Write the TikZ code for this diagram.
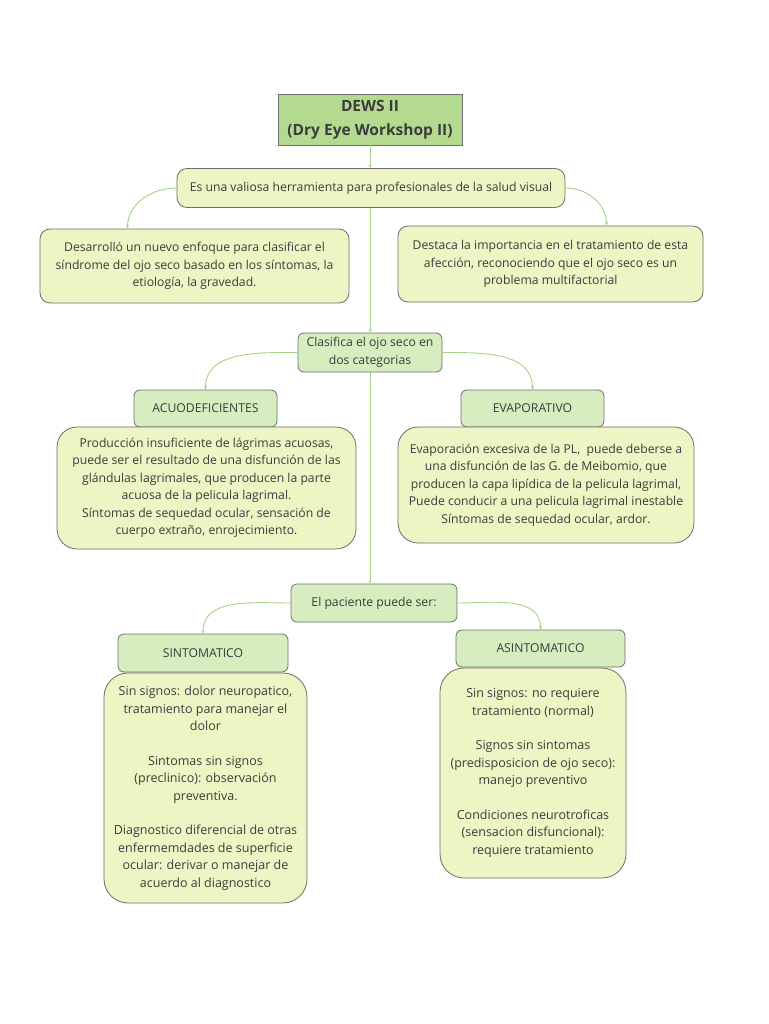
\documentclass[tikz,border=0pt]{standalone}
\usepackage{fontspec}
\setmainfont{Open Sans}
\usetikzlibrary{arrows.meta}
\definecolor{txt}{HTML}{3C3C3C}
\definecolor{bord}{HTML}{6E6E6E}
\definecolor{titlefill}{HTML}{B3DA8F}
\definecolor{catfill}{HTML}{D6EDBF}
\definecolor{boxfill}{HTML}{EEF4C3}
\definecolor{link}{HTML}{A5D488}
\tikzset{
  base/.style={draw=bord, line width=0.8pt, text=txt, align=center, inner sep=2pt,
    font=\fontsize{12.2}{17.5}\selectfont},
  titlebox/.style={base, fill=titlefill, rounded corners=0pt, font=\bfseries\fontsize{15.5}{24}\selectfont},
  catbox/.style={base, fill=catfill, rounded corners=6pt},
  infobox/.style={base, fill=boxfill, rounded corners=10pt},
  bigbox/.style={base, fill=boxfill, rounded corners=24pt},
  lowbox/.style={bigbox, font=\fontsize{12.5}{17.5}\selectfont},
  conn/.style={draw=link, line width=0.9pt, -{Stealth[length=3.5pt,width=3pt]}},
  plainconn/.style={draw=link, line width=0.9pt}
}
\begin{document}
\begin{tikzpicture}[x=1pt,y=-1pt]
\useasboundingbox[fill=white] (0,0) rectangle (768,1024);
\node[titlebox, minimum width=184pt, minimum height=51pt] (title) at (370,119.5) {DEWS II\\(Dry Eye Workshop II)};
\node[infobox, minimum width=388pt, minimum height=39pt] (es) at (371,188) {Es una valiosa herramienta para profesionales de la salud visual};
\node[infobox, minimum width=309pt, minimum height=74pt] (desa) at (194.5,266) {Desarrolló un nuevo enfoque para clasificar el\\síndrome del ojo seco basado en los síntomas, la\\etiología, la gravedad.};
\node[infobox, minimum width=305pt, minimum height=76pt] (dest) at (550.5,264) {Destaca la importancia en el tratamiento de esta\\afección, reconociendo que el ojo seco es un\\problema multifactorial};
\node[catbox, minimum width=144pt, minimum height=39pt] (clas) at (370,352.5) {Clasifica el ojo seco en\\dos categorias};
\node[catbox, minimum width=143pt, minimum height=37pt] (acuo) at (205.5,408.5) {ACUODEFICIENTES};
\node[catbox, minimum width=143pt, minimum height=37pt] (evap) at (532.5,408.5) {EVAPORATIVO};
\node[bigbox, rounded corners=20pt, minimum width=299pt, minimum height=122pt] (acuot) at (206.5,488) {Producción insuficiente de lágrimas acuosas,\\puede ser el resultado de una disfunción de las\\glándulas lagrimales, que producen la parte\\acuosa de la pelicula lagrimal.\\Síntomas de sequedad ocular, sensación de\\cuerpo extraño, enrojecimiento.};
\node[bigbox, rounded corners=20pt, minimum width=296pt, minimum height=116pt] (evapt) at (546,485) {Evaporación excesiva de la PL,\ \ puede deberse a\\una disfunción de las G. de Meibomio, que\\producen la capa lipídica de la pelicula lagrimal,\\Puede conducir a una pelicula lagrimal inestable\\Síntomas de sequedad ocular, ardor.};
\node[catbox, minimum width=166pt, minimum height=38pt] (pac) at (374,603) {El paciente puede ser:};
\node[catbox, minimum width=170pt, minimum height=38pt] (sint) at (203,653) {SINTOMATICO};
\node[catbox, minimum width=169pt, minimum height=37pt] (asint) at (540.5,648.5) {ASINTOMATICO};
\node[lowbox, minimum width=203pt, minimum height=230pt] (sintt) at (205.5,788) {Sin signos: dolor neuropatico,\\tratamiento para manejar el\\dolor\\[17pt]Sintomas sin signos\\(preclinico): observación\\preventiva.\\[17pt]Diagnostico diferencial de otras\\enfermemdades de superficie\\ocular: derivar o manejar de\\acuerdo al diagnostico};
\node[lowbox, minimum width=186pt, minimum height=210pt] (asintt) at (533,773) {Sin signos: no requiere\\tratamiento (normal)\\[17pt]Signos sin sintomas\\(predisposicion de ojo seco):\\manejo preventivo\\[17pt]Condiciones neurotroficas\\(sensacion disfuncional):\\requiere tratamiento};
% connectors
\draw[conn] (title.south) -- (es.north -| title.south);
\draw[conn] (es.west) to[out=180,in=90] ([xshift=-67pt]desa.north);
\draw[conn] (es.east) to[out=0,in=90] ([xshift=56pt]dest.north);
\draw[conn] (es.south -| title.south) -- (clas.north);
\draw[conn] (clas.west) to[out=180,in=90] (acuo.north);
\draw[conn] (clas.east) to[out=0,in=90] (evap.north);
\draw[conn] (clas.south) -- (clas.south |- pac.north);
\draw[conn] (pac.west) to[out=180,in=90] (sint.north);
\draw[conn] (pac.east) to[out=0,in=90] (asint.north);
\end{tikzpicture}
\end{document}
